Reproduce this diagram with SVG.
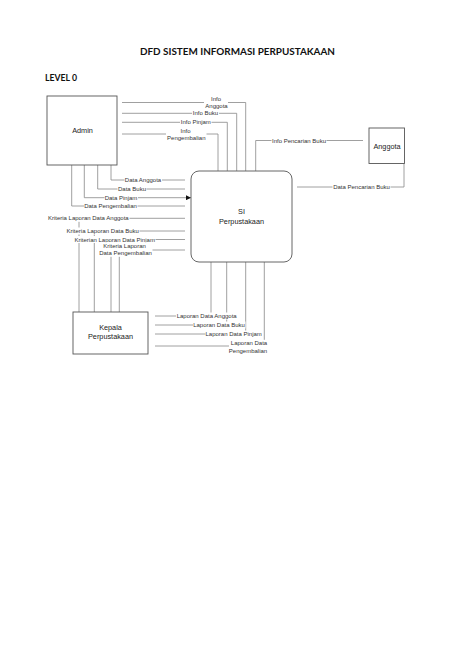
<svg xmlns="http://www.w3.org/2000/svg" width="474" height="670" viewBox="0 0 474 670">
<style>
.box{fill:#fff;stroke:#555;stroke-width:0.9}
.node{font-family:"Liberation Sans",Arial,sans-serif;font-size:7.3px;fill:#222;text-anchor:middle}
.flow{fill:none;stroke:#888;stroke-width:0.8}
.lbl rect{fill:#fff;stroke:none}
.lbl text{font-family:"Liberation Sans",Arial,sans-serif;font-size:6px;fill:#333;text-anchor:middle}
.title{font-family:Lato,"Liberation Sans",sans-serif;font-weight:bold;fill:#111}
</style>
<defs>
<marker id="arr" viewBox="0 0 10 10" refX="10" refY="5" markerWidth="6" markerHeight="5" markerUnits="userSpaceOnUse" orient="auto">
<path d="M0,0 L10,5 L0,10 z" fill="#111"/>
</marker>
</defs>
<rect width="474" height="670" fill="#fff"/>
<text class="title" x="237.5" y="54.5" font-size="10" text-anchor="middle" textLength="195" lengthAdjust="spacingAndGlyphs">DFD SISTEM INFORMASI PERPUSTAKAAN</text>
<text class="title" x="45" y="81" font-size="10" textLength="32" lengthAdjust="spacingAndGlyphs">LEVEL 0</text>

<g id="connectors">
<path class="flow" d="M122,102.5 H245.7 V171"/>
<path class="flow" d="M122,113.3 H236.7 V171"/>
<path class="flow" d="M122,122.3 H227.3 V171"/>
<path class="flow" d="M122,134 H218 V171"/>
<path class="flow" d="M363,140.5 H255.7 V171"/>
<path class="flow" d="M404,163.5 V187 H297"/>
<path class="flow" d="M111,165 V180 H185"/>
<path class="flow" d="M97.7,165 V189 H185"/>
<path class="flow" d="M84.3,165 V197.7 H191" marker-end="url(#arr)"/>
<path class="flow" d="M71.7,165 V206 H185"/>
<path class="flow" d="M79,312 V218.3 H185"/>
<path class="flow" d="M94.3,312 V231 H185"/>
<path class="flow" d="M111,312 V239.5 H185"/>
<path class="flow" d="M119.3,312 V250 H185"/>
<path class="flow" d="M211,262 V316 H155"/>
<path class="flow" d="M226.7,262 V325 H155"/>
<path class="flow" d="M245.7,262 V334 H155"/>
<path class="flow" d="M264.3,262 V346 H155"/>

<g class="lbl"><rect x="204" y="95.5" width="24" height="14"/><text x="216" y="101">Info</text><text x="216.5" y="108">Anggota</text></g>
<g class="lbl"><rect x="192" y="110" width="27" height="7"/><text x="205.5" y="115.3">Info Buku</text></g>
<g class="lbl"><rect x="180" y="119" width="31.5" height="7"/><text x="195.8" y="124.3">Info Pinjam</text></g>
<g class="lbl"><rect x="166" y="127" width="40.5" height="14.5"/><text x="185.5" y="132.5">Info</text><text x="186.3" y="140">Pengembalian</text></g>
<g class="lbl"><rect x="271.5" y="137" width="55" height="7"/><text x="299" y="142.5">Info Pencarian Buku</text></g>
<g class="lbl"><rect x="332.5" y="183.5" width="58" height="7"/><text x="361.5" y="189">Data Pencarian Buku</text></g>
<g class="lbl"><rect x="124.5" y="176.5" width="37.5" height="7"/><text x="143" y="182">Data Anggota</text></g>
<g class="lbl"><rect x="117.5" y="185.5" width="29" height="7"/><text x="132" y="191">Data Buku</text></g>
<g class="lbl"><rect x="104.5" y="194.2" width="33.5" height="7"/><text x="121" y="199.7">Data Pinjam</text></g>
<g class="lbl"><rect x="84" y="202.5" width="53.5" height="7"/><text x="110.5" y="208">Data Pengembalian</text></g>
<g class="lbl"><rect x="47.5" y="214.8" width="82" height="7"/><text x="88.3" y="220.3">Kriteria Laporan Data Anggota</text></g>
<g class="lbl"><rect x="66" y="227.5" width="73.5" height="7"/><text x="102.7" y="233">Kriteria Laporan Data Buku</text></g>
<g class="lbl"><rect x="74" y="236" width="81.5" height="7"/><text x="114.7" y="241.5">Kriterian Laporan Data Pinjam</text></g>
<g class="lbl"><rect x="98.5" y="242.2" width="54" height="14.6"/><text x="124.5" y="247.7">Kriteria Laporan</text><text x="125.5" y="255.3">Data Pengembalian</text></g>
<g class="lbl"><rect x="176" y="312.5" width="61.5" height="7"/><text x="206.7" y="318">Laporan Data Anggota</text></g>
<g class="lbl"><rect x="193" y="321.5" width="52.5" height="7"/><text x="219" y="327">Laporan Data Buku</text></g>
<g class="lbl"><rect x="205.5" y="330.5" width="57" height="7"/><text x="233.7" y="336">Laporan Data Pinjam</text></g>
<g class="lbl"><rect x="229" y="339.8" width="40" height="14.5"/><text x="249" y="345.3">Laporan Data</text><text x="248" y="352.7">Pengembalian</text></g>
</g>

<g id="admin">
<rect class="box" x="47" y="96" width="70" height="69"/>
<text class="node" x="82.5" y="132.6">Admin</text>
</g>
<g id="si-perpustakaan">
<rect class="box" x="191" y="171" width="101" height="91" rx="8" ry="8"/>
<text class="node" x="241.5" y="214.3">SI</text>
<text class="node" x="241.5" y="223.6">Perpustakaan</text>
</g>
<g id="anggota">
<rect class="box" x="369" y="128" width="35.5" height="35.5"/>
<text class="node" x="387" y="149.3">Anggota</text>
</g>
<g id="kepala-perpustakaan">
<rect class="box" x="73" y="312" width="75" height="42"/>
<text class="node" x="110.5" y="330">Kepala</text>
<text class="node" x="110.5" y="338.8">Perpustakaan</text>
</g>
</svg>
